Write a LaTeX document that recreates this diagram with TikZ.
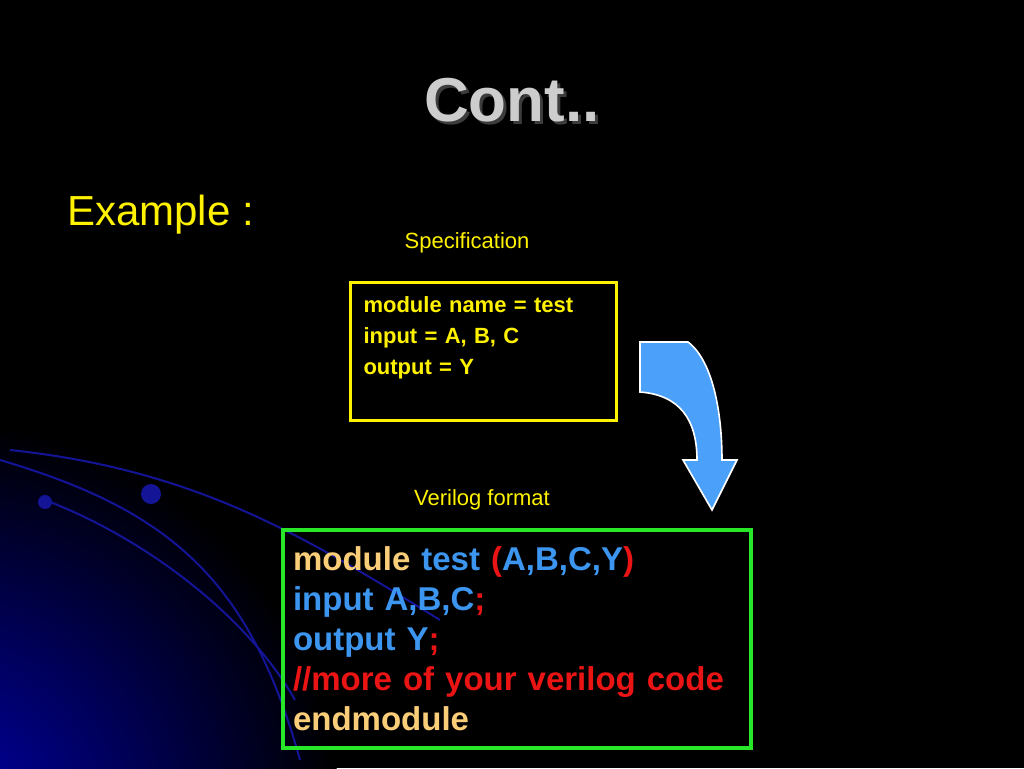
\documentclass[tikz,border=0pt]{standalone}
\usepackage{fontspec}
\setmainfont{Liberation Sans}
\usetikzlibrary{positioning}
\definecolor{codeyellow}{RGB}{250,205,120}
\definecolor{codeblue}{RGB}{60,150,240}
\definecolor{codered}{RGB}{235,20,20}
\definecolor{arrowblue}{RGB}{75,160,250}
\definecolor{arcblue}{RGB}{20,20,150}
\begin{document}
\begin{tikzpicture}[x=0.5pt,y=-0.5pt]
	\tikzstyle{label}=[text=yellow, font=\fontsize{11}{13}\selectfont]
	\tikzstyle{specbox}=[draw=yellow, line width=1.5pt, text=yellow, anchor=north west,
	minimum width=133pt, minimum height=69pt, align=left, text width=120pt,
	font=\bfseries\fontsize{11}{15.5}\selectfont, inner xsep=5pt, inner ysep=6pt]
	\tikzstyle{codebox}=[draw={rgb,255:red,40;green,230;blue,40}, line width=2pt, anchor=north west,
	minimum width=232pt, minimum height=109pt, align=left, text width=224pt,
	font=\bfseries\fontsize{16.5}{20}\selectfont, inner xsep=5pt, inner ysep=5pt]
	% background
	\fill[black] (0,0) rectangle (1024,768);
	\begin{scope}
		\clip (0,0) rectangle (1024,768);
		\shade[inner color={rgb,255:red,0;green,0;blue,170}, outer color=black] (-60,820) circle (400);
	\end{scope}
	\useasboundingbox (0,0) rectangle (1024,768);
	\draw[arcblue, line width=1pt] (10,450) .. controls (200,470) and (310,540) .. (440,620);
	\draw[arcblue, line width=1pt] (0,460) .. controls (170,510) and (250,580) .. (300,760);
	\draw[arcblue, line width=1pt] (45,500) .. controls (150,540) and (250,620) .. (295,700);
	\fill[arcblue] (151,494) circle (10);
	\fill[arcblue] (45,502) circle (7);
	% texts
	\node[text={rgb,255:red,60;green,60;blue,60}, font=\bfseries\fontsize{31}{35}\selectfont] at (515,103) {Cont..};
	\node[text={rgb,255:red,205;green,205;blue,205}, font=\bfseries\fontsize{31}{35}\selectfont] (title) at (512,100) {Cont..};
	\node[text=yellow, font=\fontsize{21}{25}\selectfont, anchor=west] (example) at (60,215) {Example :};
	\node[label] (speclabel) at (467,243) {Specification};
	\node[specbox] (spec) at (349,281) {module name = test\\input = A, B, C\\output = Y\\\mbox{}};
	\node[label] (veriloglabel) at (482,500) {Verilog format};
	\node[codebox] (code) at (281,528) {\textcolor{codeyellow}{module} \textcolor{codeblue}{test} \textcolor{codered}{(}\textcolor{codeblue}{A,B,C,Y}\textcolor{codered}{)}\\
		\textcolor{codeblue}{input A,B,C}\textcolor{codered}{;}\\
		\textcolor{codeblue}{output Y}\textcolor{codered}{;}\\
		\textcolor{codered}{//more of your verilog code}\\
		\textcolor{codeyellow}{endmodule}};
	% arrow
	\filldraw[fill=arrowblue, draw=white, line width=0.8pt] (640,342) -- (688,342)
		.. controls (712,360) and (722,410) .. (722,460) -- (737,460) -- (712,510) -- (683,460) -- (697,460)
		.. controls (697,420) and (680,395) .. (640,392) -- cycle;
\end{tikzpicture}
\end{document}
